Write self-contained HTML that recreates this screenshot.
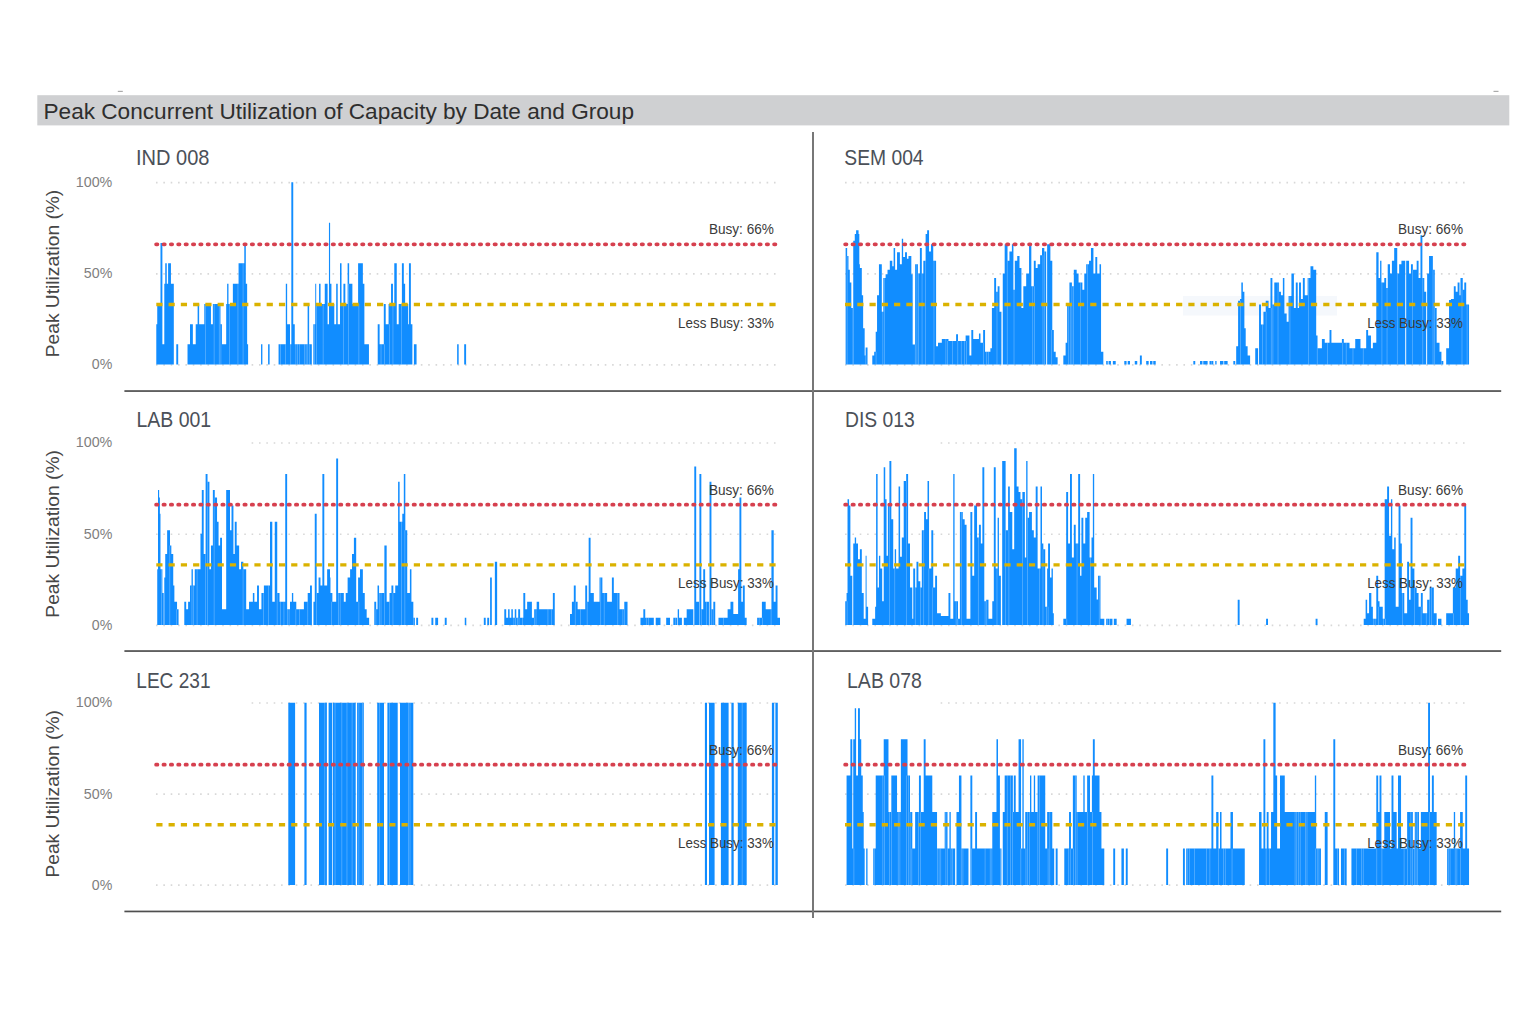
<!DOCTYPE html>
<html><head><meta charset="utf-8"><title>Peak Concurrent Utilization</title>
<style>
html,body{margin:0;padding:0;background:#fff;}
body{width:1536px;height:1024px;overflow:hidden;position:relative;font-family:"Liberation Sans", sans-serif;}
#wrap{position:absolute;left:0;top:0;width:1536px;height:1024px;}
svg{display:block;}
</style></head><body><div id="wrap">
<svg width="1536" height="1024" viewBox="0 0 1536 1024" font-family='"Liberation Sans", sans-serif'>
<g>
<rect x="0" y="0" width="1536" height="1024" fill="#FFFFFF"/>
<rect x="117.8" y="90.8" width="5" height="1.2" fill="#ABABAB"/>
<rect x="1493.5" y="90.8" width="5" height="1.2" fill="#ABABAB"/>
<rect x="37.3" y="95.2" width="1472" height="30.2" fill="#CFD0D2"/>
<text x="43.5" y="118.8" font-size="22.3" fill="#2E2E2E" textLength="590.5" lengthAdjust="spacingAndGlyphs">Peak Concurrent Utilization of Capacity by Date and Group</text>
<rect x="124.4" y="390.2" width="1376.8" height="1.7" fill="#4F4F4F"/>
<rect x="124.4" y="650.2" width="1376.8" height="1.7" fill="#4F4F4F"/>
<rect x="124.4" y="910.6" width="1376.8" height="1.7" fill="#4F4F4F"/>
<rect x="812.0" y="132" width="2" height="786" fill="#777777"/>
<rect x="1183" y="296" width="154" height="19.5" fill="#F5F8FC"/>
<line x1="155.97" y1="182.60" x2="775.56" y2="182.60" stroke="#D8D8D8" stroke-width="1.7" stroke-dasharray="1.6 5.757"/>
<line x1="155.97" y1="273.85" x2="775.56" y2="273.85" stroke="#D8D8D8" stroke-width="1.7" stroke-dasharray="1.6 5.757"/>
<line x1="155.97" y1="364.90" x2="775.56" y2="364.90" stroke="#D8D8D8" stroke-width="1.7" stroke-dasharray="1.6 5.757"/>
<path fill="#118DFF" d="M156.29 364.60V324.13H157.24V364.60Z M157.24 364.60V303.89H160.48V364.60Z M160.48 364.60V243.01H162.38V364.60Z M162.38 364.60V344.36H164.29V364.60Z M164.29 364.60V283.66H165.24V364.60Z M165.24 364.60V263.24H166.76V364.60Z M166.76 364.60V283.66H168.10V364.60Z M168.10 364.60V263.24H170.95V364.60Z M170.95 364.60V283.66H173.81V364.60Z M176.29 364.60V344.36H178.19V364.60Z M187.52 364.60V344.36H190.00V364.60Z M190.00 364.60V324.13H192.86V364.60Z M192.86 364.60V344.36H195.71V364.60Z M195.71 364.60V324.13H197.62V364.60Z M197.62 364.60V303.89H199.14V364.60Z M199.14 364.60V324.13H204.29V364.60Z M204.29 364.60V303.89H210.95V364.60Z M210.95 364.60V324.13H212.86V364.60Z M212.86 364.60V303.89H220.48V364.60Z M220.48 364.60V324.13H222.00V364.60Z M222.00 364.60V344.36H226.19V364.60Z M226.19 364.60V303.89H227.14V364.60Z M227.14 364.60V283.66H228.48V364.60Z M228.48 364.60V303.89H232.86V364.60Z M232.86 364.60V283.66H238.57V364.60Z M238.57 364.60V263.24H244.29V364.60Z M244.29 364.60V243.01H245.81V364.60Z M245.81 364.60V283.66H247.14V364.60Z M247.14 364.60V344.36H248.10V364.60Z M261.05 364.60V344.36H262.38V364.60Z M268.10 364.60V344.36H269.62V364.60Z M278.57 364.60V344.36H285.81V364.60Z M285.81 364.60V283.66H287.14V364.60Z M287.14 364.60V324.13H290.00V364.60Z M290.00 364.60V344.36H291.33V364.60Z M291.33 364.60V182.30H293.24V364.60Z M293.24 364.60V324.13H294.76V364.60Z M294.76 364.60V344.36H300.10V364.60Z M300.00 364.60V344.36H307.62V364.60Z M307.62 364.60V303.89H309.14V364.60Z M309.14 364.60V344.36H311.81V364.60Z M313.33 364.60V324.13H315.24V364.60Z M315.24 364.60V283.66H316.19V364.60Z M316.19 364.60V303.89H319.05V364.60Z M319.05 364.60V283.66H320.57V364.60Z M320.57 364.60V303.89H324.76V364.60Z M324.76 364.60V283.66H327.62V364.60Z M327.62 364.60V324.13H328.95V364.60Z M328.95 364.60V222.77H330.10V364.60Z M330.10 364.60V283.66H331.43V364.60Z M331.43 364.60V303.89H334.29V364.60Z M334.29 364.60V324.13H336.19V364.60Z M336.19 364.60V283.66H337.71V364.60Z M337.71 364.60V324.13H340.00V364.60Z M340.00 364.60V263.24H341.52V364.60Z M341.52 364.60V303.89H343.43V364.60Z M343.43 364.60V283.66H345.33V364.60Z M345.33 364.60V303.89H347.62V364.60Z M347.62 364.60V263.24H349.14V364.60Z M349.14 364.60V283.66H352.38V364.60Z M352.38 364.60V303.89H358.10V364.60Z M358.10 364.60V263.24H362.86V364.60Z M362.86 364.60V283.66H364.38V364.60Z M364.38 364.60V344.36H368.95V364.60Z M377.71 364.60V324.13H379.62V364.60Z M379.62 364.60V344.36H383.81V364.60Z M383.81 364.60V303.89H385.71V364.60Z M385.71 364.60V324.13H388.57V364.60Z M388.57 364.60V303.89H391.05V364.60Z M391.05 364.60V283.66H392.95V364.60Z M392.95 364.60V303.89H394.29V364.60Z M394.29 364.60V263.24H396.76V364.60Z M396.76 364.60V324.13H398.67V364.60Z M398.67 364.60V303.89H401.90V364.60Z M401.90 364.60V263.24H403.81V364.60Z M403.81 364.60V283.66H405.14V364.60Z M405.14 364.60V303.89H408.19V364.60Z M408.19 364.60V324.13H408.95V364.60Z M408.95 364.60V263.24H410.86V364.60Z M410.86 364.60V324.13H412.38V364.60Z M413.90 364.60V344.36H416.57V364.60Z M457.14 364.60V344.36H458.67V364.60Z M464.19 364.60V344.36H466.10V364.60Z"/>
<path fill="#FFFFFF" fill-opacity="0.4" d="M205.30 364.60V303.89H205.90V364.60Z M213.81 364.60V303.89H214.41V364.60Z M218.92 364.60V303.89H219.52V364.60Z M220.62 364.60V324.13H221.22V364.60Z M229.14 364.60V303.89H229.74V364.60Z M237.66 364.60V283.66H238.26V364.60Z M242.77 364.60V263.24H243.37V364.60Z M280.24 364.60V344.36H280.84V364.60Z M285.35 364.60V344.36H285.95V364.60Z M290.46 364.60V324.13H291.06V364.60Z M295.57 364.60V344.36H296.17V364.60Z M297.27 364.60V344.36H297.87V364.60Z M298.98 364.60V344.36H299.58V364.60Z M304.09 364.60V344.36H304.69V364.60Z M305.79 364.60V344.36H306.39V364.60Z M307.49 364.60V344.36H308.09V364.60Z M309.20 364.60V344.36H309.80V364.60Z M314.30 364.60V324.13H314.90V364.60Z M316.01 364.60V303.89H316.61V364.60Z M322.82 364.60V303.89H323.42V364.60Z M343.26 364.60V303.89H343.86V364.60Z M348.37 364.60V283.66H348.97V364.60Z M358.59 364.60V303.89H359.19V364.60Z M380.73 364.60V344.36H381.33V364.60Z M384.14 364.60V344.36H384.74V364.60Z M389.25 364.60V324.13H389.85V364.60Z M392.66 364.60V303.89H393.26V364.60Z M401.17 364.60V303.89H401.77V364.60Z"/>
<line x1="156.12" y1="244.28" x2="775.41" y2="244.28" stroke="#D6404F" stroke-width="3.8" stroke-linecap="round" stroke-dasharray="1.3 6.057"/>
<line x1="156.30" y1="304.44" x2="775.60" y2="304.44" stroke="#DAB200" stroke-width="3.4" stroke-dasharray="6.2 6.062"/>
<text x="773.9" y="234.2" font-size="14.2" fill="#3A3A3A" text-anchor="end" textLength="65.0" lengthAdjust="spacingAndGlyphs" >Busy: 66%</text>
<text x="773.9" y="327.5" font-size="14.2" fill="#3A3A3A" text-anchor="end" textLength="95.8" lengthAdjust="spacingAndGlyphs" >Less Busy: 33%</text>
<text x="136.0" y="164.9" font-size="22.8" fill="#4B5058" text-anchor="start" textLength="73.5" lengthAdjust="spacingAndGlyphs" >IND 008</text>
<text x="112.3" y="187.0" font-size="14.5" fill="#808080" text-anchor="end" textLength="36.5" lengthAdjust="spacingAndGlyphs" >100%</text>
<text x="112.3" y="278.2" font-size="14.5" fill="#808080" text-anchor="end" textLength="28.5" lengthAdjust="spacingAndGlyphs" >50%</text>
<text x="112.3" y="369.3" font-size="14.5" fill="#808080" text-anchor="end" textLength="20.5" lengthAdjust="spacingAndGlyphs" >0%</text>
<text x="0" y="0" font-size="18.5" fill="#474747" text-anchor="middle" textLength="167.5" lengthAdjust="spacingAndGlyphs" transform="translate(58.9 273.5) rotate(-90)">Peak Utilization (%)</text>
<line x1="845.01" y1="182.60" x2="1464.60" y2="182.60" stroke="#D8D8D8" stroke-width="1.7" stroke-dasharray="1.6 5.757"/>
<line x1="845.01" y1="273.85" x2="1464.60" y2="273.85" stroke="#D8D8D8" stroke-width="1.7" stroke-dasharray="1.6 5.757"/>
<line x1="845.01" y1="364.90" x2="1464.60" y2="364.90" stroke="#D8D8D8" stroke-width="1.7" stroke-dasharray="1.6 5.757"/>
<path fill="#118DFF" d="M845.62 364.60V247.93H847.14V364.60Z M847.14 364.60V255.95H848.48V364.60Z M848.48 364.60V269.80H849.81V364.60Z M849.81 364.60V282.57H851.33V364.60Z M851.33 364.60V308.09H852.86V364.60Z M853.24 364.60V240.64H854.76V364.60Z M854.76 364.60V234.07H856.10V364.60Z M856.10 364.60V230.24H858.57V364.60Z M858.57 364.60V234.07H859.33V364.60Z M859.33 364.60V264.34H859.90V364.60Z M859.90 364.60V267.98H861.81V364.60Z M861.81 364.60V295.33H863.14V364.60Z M863.14 364.60V328.14H864.67V364.60Z M864.67 364.60V355.49H865.62V364.60Z M865.62 364.60V347.46H867.52V364.60Z M872.29 364.60V355.49H874.19V364.60Z M874.19 364.60V351.84H875.71V364.60Z M875.71 364.60V331.79H877.05V364.60Z M877.05 364.60V295.33H878.95V364.60Z M878.95 364.60V264.34H881.81V364.60Z M881.81 364.60V311.73H883.33V364.60Z M883.33 364.60V278.01H885.62V364.60Z M885.62 364.60V274.18H887.52V364.60Z M887.52 364.60V269.80H889.81V364.60Z M889.81 364.60V260.69H892.29V364.60Z M892.29 364.60V266.16H893.62V364.60Z M893.62 364.60V247.93H895.14V364.60Z M895.14 364.60V269.80H897.05V364.60Z M897.05 364.60V252.30H899.90V364.60Z M899.90 364.60V264.34H901.81V364.60Z M901.81 364.60V238.81H903.14V364.60Z M903.14 364.60V257.04H905.05V364.60Z M905.05 364.60V252.30H906.95V364.60Z M906.95 364.60V258.87H908.48V364.60Z M908.48 364.60V255.95H911.33V364.60Z M911.33 364.60V274.18H912.67V364.60Z M912.67 364.60V344.55H915.14V364.60Z M915.14 364.60V264.34H918.00V364.60Z M918.00 364.60V273.45H919.90V364.60Z M919.90 364.60V247.93H921.81V364.60Z M921.81 364.60V273.45H923.33V364.60Z M923.33 364.60V260.69H925.62V364.60Z M925.62 364.60V234.07H927.14V364.60Z M927.14 364.60V230.24H929.05V364.60Z M929.05 364.60V251.57H930.95V364.60Z M930.95 364.60V244.28H933.24V364.60Z M933.24 364.60V260.69H936.10V364.60Z M936.10 364.60V346.37H938.00V364.60Z M938.00 364.60V342.72H941.81V364.60Z M941.81 364.60V339.08H948.48V364.60Z M948.48 364.60V340.90H956.10V364.60Z M956.10 364.60V334.16H958.00V364.60Z M958.00 364.60V340.90H965.62V364.60Z M965.62 364.60V335.43H969.43V364.60Z M969.43 364.60V355.49H971.33V364.60Z M971.33 364.60V329.96H973.24V364.60Z M973.24 364.60V339.08H978.95V364.60Z M978.95 364.60V333.61H980.48V364.60Z M980.48 364.60V342.72H983.14V364.60Z M983.14 364.60V329.96H985.05V364.60Z M985.05 364.60V351.84H990.38V364.60Z M990.38 364.60V348.19H991.90V364.60Z M991.90 364.60V308.09H994.19V364.60Z M994.19 364.60V278.01H996.10V364.60Z M996.10 364.60V291.68H997.62V364.60Z M997.62 364.60V286.21H999.52V364.60Z M999.52 364.60V311.73H1001.43V364.60Z M1002.76 364.60V273.45H1004.67V364.60Z M1004.67 364.60V244.28H1007.52V364.60Z M1007.52 364.60V260.69H1009.43V364.60Z M1009.43 364.60V251.57H1010.00V364.60Z M1010.00 364.60V251.57H1011.90V364.60Z M1011.90 364.60V244.28H1013.43V364.60Z M1013.43 364.60V289.86H1014.76V364.60Z M1014.76 364.60V260.69H1017.24V364.60Z M1017.24 364.60V255.95H1019.52V364.60Z M1019.52 364.60V267.98H1021.43V364.60Z M1021.43 364.60V308.09H1023.33V364.60Z M1023.33 364.60V286.21H1026.19V364.60Z M1026.19 364.60V273.45H1029.05V364.60Z M1029.05 364.60V246.11H1031.33V364.60Z M1031.33 364.60V286.21H1033.81V364.60Z M1033.81 364.60V260.69H1035.71V364.60Z M1035.71 364.60V267.98H1037.62V364.60Z M1037.62 364.60V264.34H1040.10V364.60Z M1040.10 364.60V255.22H1042.00V364.60Z M1042.00 364.60V247.93H1044.29V364.60Z M1044.29 364.60V251.57H1046.19V364.60Z M1047.14 364.60V244.28H1050.38V364.60Z M1050.38 364.60V260.69H1052.29V364.60Z M1052.29 364.60V329.96H1053.81V364.60Z M1053.81 364.60V351.84H1055.71V364.60Z M1055.71 364.60V357.31H1057.62V364.60Z M1063.33 364.60V355.49H1065.62V364.60Z M1065.62 364.60V342.72H1067.14V364.60Z M1067.14 364.60V304.44H1069.43V364.60Z M1069.43 364.60V282.57H1071.90V364.60Z M1071.90 364.60V286.21H1073.81V364.60Z M1073.81 364.60V269.80H1076.67V364.60Z M1076.67 364.60V273.45H1078.57V364.60Z M1078.57 364.60V282.57H1082.38V364.60Z M1082.38 364.60V289.86H1084.29V364.60Z M1084.29 364.60V273.45H1086.19V364.60Z M1086.19 364.60V264.34H1089.05V364.60Z M1089.05 364.60V260.69H1090.95V364.60Z M1090.95 364.60V247.93H1093.43V364.60Z M1093.43 364.60V273.45H1095.33V364.60Z M1095.33 364.60V257.04H1097.24V364.60Z M1097.24 364.60V273.45H1099.52V364.60Z M1099.52 364.60V264.34H1101.05V364.60Z M1101.05 364.60V351.84H1103.33V364.60Z M1106.19 364.60V360.95H1108.10V364.60Z M1108.67 364.60V360.95H1110.95V364.60Z M1112.86 364.60V360.95H1115.71V364.60Z M1124.29 364.60V360.95H1126.57V364.60Z M1127.71 364.60V360.95H1130.00V364.60Z M1134.76 364.60V360.95H1137.24V364.60Z M1139.90 364.60V355.49H1141.81V364.60Z M1146.19 364.60V360.95H1148.67V364.60Z M1150.00 364.60V360.95H1152.48V364.60Z M1153.24 364.60V360.95H1155.71V364.60Z M1193.33 364.60V360.95H1195.24V364.60Z M1200.00 364.60V360.95H1202.48V364.60Z M1203.24 364.60V360.95H1207.62V364.60Z M1209.52 364.60V360.95H1213.33V364.60Z M1215.24 364.60V360.95H1216.57V364.60Z M1220.00 364.60V360.95H1223.43V364.60Z M1224.19 364.60V360.95H1227.62V364.60Z M1233.33 364.60V360.95H1235.24V364.60Z M1236.19 364.60V346.37H1238.10V364.60Z M1238.10 364.60V300.80H1240.00V364.60Z M1240.00 364.60V298.97H1241.33V364.60Z M1241.33 364.60V282.57H1242.86V364.60Z M1242.86 364.60V291.68H1244.38V364.60Z M1244.38 364.60V328.14H1245.71V364.60Z M1245.71 364.60V346.37H1247.62V364.60Z M1247.62 364.60V355.49H1250.10V364.60Z M1255.24 364.60V348.19H1258.10V364.60Z M1259.05 364.60V304.44H1260.95V364.60Z M1260.95 364.60V324.49H1263.43V364.60Z M1263.43 364.60V311.73H1265.71V364.60Z M1265.71 364.60V300.80H1268.57V364.60Z M1268.57 364.60V308.09H1270.48V364.60Z M1270.48 364.60V278.01H1272.38V364.60Z M1272.38 364.60V304.44H1274.29V364.60Z M1274.29 364.60V282.57H1279.05V364.60Z M1279.05 364.60V291.68H1280.95V364.60Z M1280.95 364.60V295.33H1282.86V364.60Z M1282.86 364.60V278.01H1284.38V364.60Z M1284.38 364.60V313.56H1286.67V364.60Z M1286.67 364.60V321.76H1288.57V364.60Z M1288.57 364.60V296.06H1291.43V364.60Z M1291.43 364.60V273.45H1293.90V364.60Z M1293.90 364.60V308.09H1295.81V364.60Z M1295.81 364.60V282.57H1297.71V364.60Z M1297.71 364.60V308.09H1299.05V364.60Z M1299.05 364.60V282.57H1300.95V364.60Z M1300.95 364.60V298.97H1302.86V364.60Z M1302.86 364.60V278.01H1304.76V364.60Z M1304.76 364.60V295.33H1307.62V364.60Z M1307.62 364.60V278.01H1310.48V364.60Z M1310.48 364.60V266.16H1313.33V364.60Z M1313.33 364.60V269.80H1316.19V364.60Z M1316.19 364.60V335.43H1317.52V364.60Z M1317.52 364.60V348.19H1321.90V364.60Z M1321.90 364.60V339.08H1324.76V364.60Z M1324.76 364.60V342.72H1329.52V364.60Z M1329.52 364.60V329.96H1331.43V364.60Z M1331.43 364.60V342.72H1341.90V364.60Z M1341.90 364.60V339.08H1343.81V364.60Z M1343.81 364.60V342.72H1349.52V364.60Z M1349.52 364.60V348.19H1355.24V364.60Z M1355.24 364.60V339.08H1360.00V364.60Z M1359.90 364.60V339.08H1360.48V364.60Z M1360.48 364.60V348.19H1366.19V364.60Z M1366.19 364.60V329.96H1368.10V364.60Z M1368.10 364.60V335.43H1370.95V364.60Z M1370.95 364.60V348.19H1372.86V364.60Z M1372.86 364.60V342.72H1376.29V364.60Z M1376.29 364.60V252.30H1378.57V364.60Z M1378.57 364.60V278.01H1380.10V364.60Z M1380.10 364.60V260.69H1381.43V364.60Z M1381.43 364.60V282.57H1384.29V364.60Z M1384.29 364.60V278.01H1386.19V364.60Z M1386.19 364.60V288.03H1387.71V364.60Z M1387.71 364.60V264.34H1390.00V364.60Z M1390.00 364.60V273.45H1391.90V364.60Z M1391.90 364.60V260.69H1394.19V364.60Z M1394.19 364.60V247.93H1397.24V364.60Z M1397.24 364.60V273.45H1399.14V364.60Z M1399.14 364.60V264.34H1401.43V364.60Z M1401.43 364.60V260.69H1405.24V364.60Z M1406.19 364.60V260.69H1409.05V364.60Z M1409.05 364.60V273.45H1410.95V364.60Z M1410.95 364.60V264.34H1412.86V364.60Z M1412.86 364.60V269.80H1416.67V364.60Z M1416.67 364.60V260.69H1418.57V364.60Z M1418.57 364.60V278.01H1420.48V364.60Z M1420.48 364.60V235.17H1422.38V364.60Z M1422.38 364.60V278.01H1424.29V364.60Z M1424.29 364.60V291.68H1426.19V364.60Z M1427.14 364.60V273.45H1429.05V364.60Z M1429.05 364.60V255.95H1432.86V364.60Z M1432.86 364.60V269.80H1434.76V364.60Z M1434.76 364.60V308.09H1436.67V364.60Z M1436.67 364.60V342.72H1439.52V364.60Z M1439.52 364.60V351.84H1441.43V364.60Z M1441.43 364.60V360.95H1443.33V364.60Z M1446.19 364.60V348.19H1449.05V364.60Z M1449.05 364.60V299.88H1450.95V364.60Z M1450.95 364.60V298.97H1453.81V364.60Z M1453.81 364.60V286.21H1455.71V364.60Z M1455.71 364.60V291.68H1457.62V364.60Z M1457.62 364.60V282.57H1459.52V364.60Z M1459.52 364.60V295.33H1460.48V364.60Z M1460.48 364.60V278.01H1462.76V364.60Z M1462.76 364.60V289.86H1464.29V364.60Z M1464.29 364.60V282.57H1466.19V364.60Z M1466.19 364.60V304.44H1469.05V364.60Z"/>
<path fill="#FFFFFF" fill-opacity="0.4" d="M846.80 364.60V255.95H847.40V364.60Z M865.54 364.60V355.49H866.14V364.60Z M875.76 364.60V351.84H876.36V364.60Z M882.57 364.60V311.73H883.17V364.60Z M884.28 364.60V278.01H884.88V364.60Z M914.93 364.60V344.55H915.53V364.60Z M916.64 364.60V264.34H917.24V364.60Z M918.34 364.60V273.45H918.94V364.60Z M921.75 364.60V273.45H922.35V364.60Z M925.15 364.60V260.69H925.75V364.60Z M933.67 364.60V260.69H934.27V364.60Z M945.59 364.60V339.08H946.19V364.60Z M947.30 364.60V340.90H947.90V364.60Z M952.41 364.60V340.90H953.01V364.60Z M957.52 364.60V340.90H958.12V364.60Z M960.92 364.60V340.90H961.52V364.60Z M964.33 364.60V340.90H964.93V364.60Z M966.03 364.60V340.90H966.63V364.60Z M983.07 364.60V342.72H983.67V364.60Z M986.47 364.60V351.84H987.07V364.60Z M988.18 364.60V351.84H988.78V364.60Z M996.69 364.60V286.21H997.29V364.60Z M1006.91 364.60V260.69H1007.51V364.60Z M1013.72 364.60V260.69H1014.32V364.60Z M1032.46 364.60V286.21H1033.06V364.60Z M1034.16 364.60V286.21H1034.76V364.60Z M1042.68 364.60V255.22H1043.28V364.60Z M1044.38 364.60V251.57H1044.98V364.60Z M1051.20 364.60V329.96H1051.80V364.60Z M1068.23 364.60V304.44H1068.83V364.60Z M1069.93 364.60V304.44H1070.53V364.60Z M1071.64 364.60V286.21H1072.24V364.60Z M1073.34 364.60V286.21H1073.94V364.60Z M1080.15 364.60V282.57H1080.75V364.60Z M1086.97 364.60V264.34H1087.57V364.60Z M1107.40 364.60V360.95H1108.00V364.60Z M1211.30 364.60V360.95H1211.90V364.60Z M1240.26 364.60V300.80H1240.86V364.60Z M1262.40 364.60V324.49H1263.00V364.60Z M1265.81 364.60V311.73H1266.41V364.60Z M1270.92 364.60V308.09H1271.52V364.60Z M1272.62 364.60V304.44H1273.22V364.60Z M1277.73 364.60V282.57H1278.33V364.60Z M1289.66 364.60V296.06H1290.26V364.60Z M1308.39 364.60V278.01H1308.99V364.60Z M1316.91 364.60V348.19H1317.51V364.60Z M1327.13 364.60V342.72H1327.73V364.60Z M1342.46 364.60V342.72H1343.06V364.60Z M1345.86 364.60V342.72H1346.46V364.60Z M1352.68 364.60V348.19H1353.28V364.60Z M1362.90 364.60V348.19H1363.50V364.60Z M1381.63 364.60V282.57H1382.23V364.60Z M1386.74 364.60V278.01H1387.34V364.60Z M1396.96 364.60V273.45H1397.56V364.60Z M1412.29 364.60V269.80H1412.89V364.60Z M1422.51 364.60V278.01H1423.11V364.60Z M1432.73 364.60V269.80H1433.33V364.60Z M1434.43 364.60V308.09H1435.03V364.60Z M1441.25 364.60V360.95H1441.85V364.60Z M1461.69 364.60V289.86H1462.29V364.60Z M1466.80 364.60V304.44H1467.40V364.60Z"/>
<line x1="845.16" y1="244.28" x2="1464.45" y2="244.28" stroke="#D6404F" stroke-width="3.8" stroke-linecap="round" stroke-dasharray="1.3 6.057"/>
<line x1="845.00" y1="304.44" x2="1464.30" y2="304.44" stroke="#DAB200" stroke-width="3.4" stroke-dasharray="6.2 6.062"/>
<text x="1463.0" y="234.2" font-size="14.2" fill="#3A3A3A" text-anchor="end" textLength="65.0" lengthAdjust="spacingAndGlyphs" >Busy: 66%</text>
<text x="1463.0" y="327.5" font-size="14.2" fill="#3A3A3A" text-anchor="end" textLength="95.8" lengthAdjust="spacingAndGlyphs" >Less Busy: 33%</text>
<text x="844.3" y="164.9" font-size="22.8" fill="#4B5058" text-anchor="start" textLength="79.3" lengthAdjust="spacingAndGlyphs" >SEM 004</text>
<line x1="251.61" y1="443.00" x2="775.56" y2="443.00" stroke="#D8D8D8" stroke-width="1.7" stroke-dasharray="1.6 5.757"/>
<line x1="155.97" y1="534.25" x2="775.56" y2="534.25" stroke="#D8D8D8" stroke-width="1.7" stroke-dasharray="1.6 5.757"/>
<line x1="155.97" y1="625.30" x2="775.56" y2="625.30" stroke="#D8D8D8" stroke-width="1.7" stroke-dasharray="1.6 5.757"/>
<path fill="#118DFF" d="M157.24 625.00V569.22H158.00V625.00Z M158.00 625.00V490.10H159.14V625.00Z M159.14 625.00V497.39H159.90V625.00Z M159.90 625.00V513.80H160.48V625.00Z M160.48 625.00V569.22H162.38V625.00Z M162.38 625.00V593.10H163.71V625.00Z M164.29 625.00V577.60H165.24V625.00Z M165.24 625.00V553.90H167.14V625.00Z M167.14 625.00V530.20H170.00V625.00Z M170.00 625.00V545.52H171.33V625.00Z M171.33 625.00V553.90H173.24V625.00Z M173.24 625.00V585.44H174.38V625.00Z M174.38 625.00V601.67H177.05V625.00Z M177.05 625.00V609.32H178.57V625.00Z M184.29 625.00V601.67H186.19V625.00Z M186.19 625.00V609.32H188.10V625.00Z M188.10 625.00V601.67H190.00V625.00Z M190.00 625.00V585.44H191.52V625.00Z M191.52 625.00V569.22H192.86V625.00Z M192.86 625.00V585.44H194.76V625.00Z M194.76 625.00V569.22H200.48V625.00Z M200.48 625.00V533.85H201.81V625.00Z M201.81 625.00V490.10H203.71V625.00Z M203.71 625.00V553.90H205.62V625.00Z M205.62 625.00V474.06H207.52V625.00Z M207.52 625.00V481.71H209.43V625.00Z M209.43 625.00V569.22H210.95V625.00Z M210.95 625.00V545.52H212.86V625.00Z M212.86 625.00V490.10H214.76V625.00Z M214.76 625.00V497.39H217.05V625.00Z M217.05 625.00V521.64H218.57V625.00Z M218.57 625.00V545.52H220.10V625.00Z M220.10 625.00V537.86H222.00V625.00Z M222.00 625.00V609.32H226.19V625.00Z M226.19 625.00V490.10H230.00V625.00Z M230.00 625.00V530.20H231.52V625.00Z M231.52 625.00V505.41H233.43V625.00Z M233.43 625.00V553.90H234.76V625.00Z M234.76 625.00V521.64H236.67V625.00Z M236.67 625.00V545.52H239.14V625.00Z M239.14 625.00V569.22H241.05V625.00Z M241.05 625.00V561.74H243.33V625.00Z M243.33 625.00V569.22H246.19V625.00Z M246.19 625.00V609.32H249.05V625.00Z M249.05 625.00V601.67H252.86V625.00Z M252.86 625.00V593.10H254.38V625.00Z M254.38 625.00V601.67H257.05V625.00Z M257.05 625.00V585.44H258.95V625.00Z M258.95 625.00V609.32H261.43V625.00Z M261.43 625.00V593.10H263.90V625.00Z M263.90 625.00V585.44H270.00V625.00Z M270.00 625.00V521.64H272.29V625.00Z M272.29 625.00V601.67H274.76V625.00Z M274.76 625.00V521.64H277.24V625.00Z M277.24 625.00V593.10H279.52V625.00Z M279.52 625.00V601.67H285.24V625.00Z M285.24 625.00V474.06H287.14V625.00Z M287.14 625.00V609.32H290.00V625.00Z M290.00 625.00V601.67H291.90V625.00Z M291.90 625.00V593.10H293.24V625.00Z M293.24 625.00V601.67H296.29V625.00Z M296.29 625.00V609.32H303.90V625.00Z M303.90 625.00V601.67H307.71V625.00Z M307.71 625.00V593.10H310.00V625.00Z M310.00 625.00V585.44H311.90V625.00Z M313.43 625.00V601.67H314.76V625.00Z M314.76 625.00V513.80H316.67V625.00Z M316.67 625.00V593.10H318.57V625.00Z M318.57 625.00V577.60H320.48V625.00Z M320.48 625.00V585.44H322.38V625.00Z M322.38 625.00V474.06H324.29V625.00Z M324.29 625.00V585.44H327.14V625.00Z M327.14 625.00V569.22H330.00V625.00Z M329.90 625.00V577.60H330.48V625.00Z M330.48 625.00V593.10H332.38V625.00Z M332.38 625.00V601.67H336.19V625.00Z M336.19 625.00V458.38H338.10V625.00Z M338.10 625.00V593.10H343.81V625.00Z M343.81 625.00V601.67H345.71V625.00Z M345.71 625.00V593.10H347.62V625.00Z M347.62 625.00V577.60H350.10V625.00Z M350.10 625.00V569.22H352.00V625.00Z M352.00 625.00V553.90H353.90V625.00Z M353.90 625.00V537.86H356.19V625.00Z M356.19 625.00V601.67H358.10V625.00Z M358.10 625.00V577.60H360.00V625.00Z M360.00 625.00V569.22H362.86V625.00Z M362.86 625.00V593.10H364.76V625.00Z M364.76 625.00V609.32H366.67V625.00Z M366.67 625.00V617.71H369.14V625.00Z M374.29 625.00V601.67H376.19V625.00Z M376.19 625.00V609.32H377.52V625.00Z M377.52 625.00V585.44H379.05V625.00Z M379.05 625.00V593.10H384.38V625.00Z M384.38 625.00V545.52H386.67V625.00Z M386.67 625.00V601.67H389.52V625.00Z M389.52 625.00V593.10H391.43V625.00Z M391.43 625.00V585.44H393.33V625.00Z M393.33 625.00V593.10H395.24V625.00Z M395.24 625.00V585.44H398.10V625.00Z M398.10 625.00V481.71H399.62V625.00Z M399.62 625.00V521.64H402.29V625.00Z M402.29 625.00V513.80H403.81V625.00Z M403.81 625.00V474.06H405.33V625.00Z M405.33 625.00V530.20H407.24V625.00Z M407.24 625.00V593.10H409.90V625.00Z M409.90 625.00V569.22H411.43V625.00Z M411.43 625.00V601.67H413.33V625.00Z M413.33 625.00V617.71H414.86V625.00Z M416.19 625.00V617.71H418.10V625.00Z M431.43 625.00V617.71H433.33V625.00Z M435.24 625.00V617.71H438.10V625.00Z M444.76 625.00V617.71H446.67V625.00Z M464.76 625.00V617.71H466.29V625.00Z M483.81 625.00V617.71H485.71V625.00Z M487.24 625.00V617.71H489.14V625.00Z M490.10 625.00V577.60H491.81V625.00Z M494.86 625.00V561.74H497.14V625.00Z M504.29 625.00V609.32H506.19V625.00Z M506.19 625.00V617.71H508.10V625.00Z M508.10 625.00V609.32H509.62V625.00Z M509.62 625.00V617.71H511.33V625.00Z M511.33 625.00V609.32H512.86V625.00Z M512.86 625.00V617.71H514.76V625.00Z M514.76 625.00V609.32H516.29V625.00Z M516.29 625.00V617.71H518.19V625.00Z M518.19 625.00V609.32H520.10V625.00Z M520.10 625.00V617.71H523.33V625.00Z M523.33 625.00V593.10H525.24V625.00Z M525.24 625.00V609.32H527.14V625.00Z M527.14 625.00V601.67H531.90V625.00Z M531.90 625.00V617.71H534.19V625.00Z M534.19 625.00V609.32H536.67V625.00Z M536.67 625.00V601.67H539.14V625.00Z M539.14 625.00V609.32H552.86V625.00Z M552.86 625.00V593.10H554.76V625.00Z M570.00 625.00V614.06H571.90V625.00Z M571.90 625.00V601.67H573.81V625.00Z M573.81 625.00V585.44H575.71V625.00Z M575.71 625.00V601.67H577.62V625.00Z M577.62 625.00V609.32H585.24V625.00Z M585.24 625.00V585.44H587.14V625.00Z M587.14 625.00V601.67H588.67V625.00Z M588.67 625.00V537.86H590.57V625.00Z M590.57 625.00V593.10H593.81V625.00Z M593.81 625.00V601.67H599.52V625.00Z M599.52 625.00V577.60H602.38V625.00Z M602.38 625.00V593.10H607.14V625.00Z M607.14 625.00V601.67H611.90V625.00Z M611.90 625.00V577.60H613.81V625.00Z M613.81 625.00V593.10H619.52V625.00Z M619.52 625.00V609.32H624.29V625.00Z M624.29 625.00V601.67H627.52V625.00Z M640.48 625.00V617.71H643.33V625.00Z M643.33 625.00V609.32H645.24V625.00Z M645.24 625.00V617.71H653.81V625.00Z M655.71 625.00V617.71H660.48V625.00Z M666.19 625.00V617.71H670.00V625.00Z M673.33 625.00V617.71H677.14V625.00Z M677.71 625.00V609.32H679.05V625.00Z M679.05 625.00V617.71H681.90V625.00Z M683.81 625.00V617.71H686.67V625.00Z M686.67 625.00V609.32H693.33V625.00Z M694.29 625.00V466.40H696.19V625.00Z M696.19 625.00V601.67H699.05V625.00Z M699.43 625.00V474.06H701.33V625.00Z M701.33 625.00V609.32H703.24V625.00Z M703.24 625.00V569.22H705.14V625.00Z M705.14 625.00V601.67H708.95V625.00Z M709.52 625.00V481.71H711.43V625.00Z M711.43 625.00V609.32H713.33V625.00Z M713.33 625.00V601.67H715.24V625.00Z M718.48 625.00V617.71H727.62V625.00Z M727.62 625.00V609.32H730.48V625.00Z M730.48 625.00V601.67H733.33V625.00Z M733.33 625.00V614.06H738.10V625.00Z M738.10 625.00V569.22H739.43V625.00Z M739.43 625.00V497.39H741.33V625.00Z M741.33 625.00V601.67H742.86V625.00Z M742.86 625.00V585.44H744.76V625.00Z M744.76 625.00V617.71H746.67V625.00Z M757.14 625.00V617.71H761.90V625.00Z M761.90 625.00V601.67H765.71V625.00Z M765.71 625.00V609.32H771.43V625.00Z M771.43 625.00V530.20H773.71V625.00Z M773.71 625.00V601.67H775.62V625.00Z M775.62 625.00V585.44H777.52V625.00Z M777.52 625.00V617.71H780.00V625.00Z"/>
<path fill="#FFFFFF" fill-opacity="0.4" d="M161.01 625.00V569.22H161.61V625.00Z M169.53 625.00V545.52H170.13V625.00Z M176.34 625.00V609.32H176.94V625.00Z M191.67 625.00V585.44H192.27V625.00Z M193.37 625.00V585.44H193.97V625.00Z M196.78 625.00V569.22H197.38V625.00Z M205.30 625.00V553.90H205.90V625.00Z M207.00 625.00V481.71H207.60V625.00Z M213.81 625.00V497.39H214.41V625.00Z M242.77 625.00V569.22H243.37V625.00Z M263.21 625.00V593.10H263.81V625.00Z M268.32 625.00V585.44H268.92V625.00Z M276.83 625.00V593.10H277.43V625.00Z M280.24 625.00V601.67H280.84V625.00Z M283.65 625.00V601.67H284.25V625.00Z M287.05 625.00V609.32H287.65V625.00Z M288.76 625.00V609.32H289.36V625.00Z M295.57 625.00V609.32H296.17V625.00Z M298.98 625.00V609.32H299.58V625.00Z M307.49 625.00V601.67H308.09V625.00Z M316.01 625.00V593.10H316.61V625.00Z M331.34 625.00V601.67H331.94V625.00Z M338.15 625.00V593.10H338.75V625.00Z M339.85 625.00V593.10H340.45V625.00Z M358.59 625.00V601.67H359.19V625.00Z M375.62 625.00V609.32H376.22V625.00Z M379.03 625.00V593.10H379.63V625.00Z M380.73 625.00V593.10H381.33V625.00Z M384.14 625.00V593.10H384.74V625.00Z M389.25 625.00V601.67H389.85V625.00Z M392.66 625.00V593.10H393.26V625.00Z M401.17 625.00V521.64H401.77V625.00Z M404.58 625.00V530.20H405.18V625.00Z M413.10 625.00V617.71H413.70V625.00Z M513.59 625.00V617.71H514.19V625.00Z M515.29 625.00V617.71H515.89V625.00Z M517.00 625.00V617.71H517.60V625.00Z M518.70 625.00V617.71H519.30V625.00Z M522.10 625.00V617.71H522.70V625.00Z M534.03 625.00V617.71H534.63V625.00Z M535.73 625.00V609.32H536.33V625.00Z M547.65 625.00V609.32H548.25V625.00Z M551.06 625.00V609.32H551.66V625.00Z M574.91 625.00V601.67H575.51V625.00Z M580.02 625.00V609.32H580.62V625.00Z M586.83 625.00V601.67H587.43V625.00Z M600.46 625.00V577.60H601.06V625.00Z M603.86 625.00V593.10H604.46V625.00Z M617.49 625.00V593.10H618.09V625.00Z M622.60 625.00V609.32H623.20V625.00Z M624.30 625.00V609.32H624.90V625.00Z M646.44 625.00V617.71H647.04V625.00Z M648.15 625.00V617.71H648.75V625.00Z M675.40 625.00V617.71H676.00V625.00Z M700.95 625.00V609.32H701.55V625.00Z M706.06 625.00V601.67H706.66V625.00Z M711.17 625.00V609.32H711.77V625.00Z M712.87 625.00V609.32H713.47V625.00Z M723.09 625.00V617.71H723.69V625.00Z M758.86 625.00V617.71H759.46V625.00Z M762.27 625.00V617.71H762.87V625.00Z M770.78 625.00V609.32H771.38V625.00Z"/>
<line x1="156.12" y1="504.68" x2="775.41" y2="504.68" stroke="#D6404F" stroke-width="3.8" stroke-linecap="round" stroke-dasharray="1.3 6.057"/>
<line x1="156.30" y1="564.84" x2="775.60" y2="564.84" stroke="#DAB200" stroke-width="3.4" stroke-dasharray="6.2 6.062"/>
<text x="773.9" y="494.6" font-size="14.2" fill="#3A3A3A" text-anchor="end" textLength="65.0" lengthAdjust="spacingAndGlyphs" >Busy: 66%</text>
<text x="773.9" y="587.9" font-size="14.2" fill="#3A3A3A" text-anchor="end" textLength="95.8" lengthAdjust="spacingAndGlyphs" >Less Busy: 33%</text>
<text x="136.5" y="426.9" font-size="22.8" fill="#4B5058" text-anchor="start" textLength="74.7" lengthAdjust="spacingAndGlyphs" >LAB 001</text>
<text x="112.3" y="447.4" font-size="14.5" fill="#808080" text-anchor="end" textLength="36.5" lengthAdjust="spacingAndGlyphs" >100%</text>
<text x="112.3" y="538.6" font-size="14.5" fill="#808080" text-anchor="end" textLength="28.5" lengthAdjust="spacingAndGlyphs" >50%</text>
<text x="112.3" y="629.7" font-size="14.5" fill="#808080" text-anchor="end" textLength="20.5" lengthAdjust="spacingAndGlyphs" >0%</text>
<text x="0" y="0" font-size="18.5" fill="#474747" text-anchor="middle" textLength="167.5" lengthAdjust="spacingAndGlyphs" transform="translate(58.9 533.9) rotate(-90)">Peak Utilization (%)</text>
<line x1="940.65" y1="443.00" x2="1464.60" y2="443.00" stroke="#D8D8D8" stroke-width="1.7" stroke-dasharray="1.6 5.757"/>
<line x1="845.01" y1="534.25" x2="1464.60" y2="534.25" stroke="#D8D8D8" stroke-width="1.7" stroke-dasharray="1.6 5.757"/>
<line x1="845.01" y1="625.30" x2="1464.60" y2="625.30" stroke="#D8D8D8" stroke-width="1.7" stroke-dasharray="1.6 5.757"/>
<path fill="#118DFF" d="M845.24 625.00V601.30H846.57V625.00Z M846.57 625.00V593.10H847.52V625.00Z M847.52 625.00V499.21H849.05V625.00Z M849.05 625.00V505.41H850.38V625.00Z M850.38 625.00V575.78H852.29V625.00Z M853.24 625.00V543.51H854.76V625.00Z M854.76 625.00V537.50H856.10V625.00Z M856.10 625.00V543.51H858.00V625.00Z M858.00 625.00V559.37H859.90V625.00Z M859.90 625.00V549.35H861.81V625.00Z M861.81 625.00V593.10H863.71V625.00Z M863.71 625.00V618.80H865.62V625.00Z M865.62 625.00V555.73H866.57V625.00Z M866.57 625.00V606.77H868.10V625.00Z M872.29 625.00V618.80H875.14V625.00Z M875.14 625.00V606.77H876.10V625.00Z M876.10 625.00V474.06H877.62V625.00Z M877.62 625.00V587.45H878.95V625.00Z M878.95 625.00V555.73H880.29V625.00Z M880.29 625.00V568.49H882.19V625.00Z M882.19 625.00V601.30H883.71V625.00Z M883.71 625.00V467.31H885.24V625.00Z M885.24 625.00V499.21H886.57V625.00Z M886.57 625.00V555.73H887.90V625.00Z M887.90 625.00V505.41H889.43V625.00Z M889.43 625.00V460.93H891.33V625.00Z M891.33 625.00V519.27H893.24V625.00Z M893.24 625.00V568.49H894.76V625.00Z M894.76 625.00V549.35H896.10V625.00Z M896.10 625.00V568.49H898.57V625.00Z M898.57 625.00V486.45H900.10V625.00Z M900.10 625.00V556.82H901.81V625.00Z M901.81 625.00V537.50H903.71V625.00Z M903.71 625.00V480.98H906.19V625.00Z M906.19 625.00V474.06H908.10V625.00Z M908.10 625.00V543.51H910.00V625.00Z M910.00 625.00V587.45H912.29V625.00Z M912.29 625.00V618.80H913.24V625.00Z M913.24 625.00V568.49H915.14V625.00Z M915.14 625.00V587.45H916.48V625.00Z M916.48 625.00V561.74H918.38V625.00Z M918.38 625.00V581.25H920.29V625.00Z M920.29 625.00V587.45H921.81V625.00Z M921.81 625.00V530.20H924.10V625.00Z M924.10 625.00V511.97H926.00V625.00Z M926.00 625.00V519.27H927.52V625.00Z M927.52 625.00V480.98H929.05V625.00Z M929.05 625.00V568.49H931.33V625.00Z M931.33 625.00V530.20H933.24V625.00Z M933.24 625.00V587.45H935.14V625.00Z M935.14 625.00V575.78H937.05V625.00Z M937.05 625.00V613.15H940.86V625.00Z M940.86 625.00V615.88H948.48V625.00Z M948.48 625.00V593.10H950.38V625.00Z M950.38 625.00V618.80H953.24V625.00Z M953.24 625.00V474.06H954.57V625.00Z M954.57 625.00V601.30H958.00V625.00Z M958.00 625.00V618.80H959.90V625.00Z M959.90 625.00V511.97H962.76V625.00Z M962.76 625.00V519.27H964.67V625.00Z M964.67 625.00V524.74H966.57V625.00Z M966.57 625.00V618.80H970.38V625.00Z M970.38 625.00V511.97H972.29V625.00Z M972.29 625.00V575.78H974.19V625.00Z M974.19 625.00V505.41H977.05V625.00Z M977.05 625.00V537.50H978.95V625.00Z M978.95 625.00V524.74H980.86V625.00Z M980.86 625.00V543.51H982.38V625.00Z M982.38 625.00V467.31H984.29V625.00Z M984.29 625.00V601.30H986.19V625.00Z M986.19 625.00V599.84H988.48V625.00Z M988.48 625.00V618.80H992.29V625.00Z M992.29 625.00V601.30H993.81V625.00Z M993.81 625.00V467.31H995.71V625.00Z M995.71 625.00V568.49H997.62V625.00Z M997.62 625.00V517.81H998.95V625.00Z M998.95 625.00V575.78H1000.86V625.00Z M1002.19 625.00V460.93H1005.62V625.00Z M1005.62 625.00V530.20H1008.10V625.00Z M1008.10 625.00V486.45H1009.81V625.00Z M1009.81 625.00V511.97H1012.29V625.00Z M1012.29 625.00V549.35H1014.19V625.00Z M1014.19 625.00V448.17H1016.67V625.00Z M1016.67 625.00V486.45H1018.00V625.00Z M1018.00 625.00V486.45H1018.57V625.00Z M1018.57 625.00V491.92H1020.48V625.00Z M1020.48 625.00V499.21H1022.38V625.00Z M1022.38 625.00V491.92H1024.86V625.00Z M1024.86 625.00V557.55H1026.19V625.00Z M1026.19 625.00V460.93H1027.52V625.00Z M1027.52 625.00V517.81H1029.05V625.00Z M1029.05 625.00V511.97H1031.90V625.00Z M1031.90 625.00V530.20H1033.81V625.00Z M1033.81 625.00V537.50H1035.71V625.00Z M1035.71 625.00V486.45H1037.62V625.00Z M1037.62 625.00V568.49H1040.48V625.00Z M1040.48 625.00V486.45H1042.00V625.00Z M1042.00 625.00V543.51H1043.33V625.00Z M1043.33 625.00V549.35H1045.24V625.00Z M1045.24 625.00V606.77H1047.14V625.00Z M1047.14 625.00V568.49H1048.10V625.00Z M1048.10 625.00V543.51H1050.00V625.00Z M1050.00 625.00V577.60H1051.52V625.00Z M1051.52 625.00V568.49H1052.86V625.00Z M1052.86 625.00V613.15H1053.81V625.00Z M1063.33 625.00V618.80H1066.19V625.00Z M1066.19 625.00V491.92H1068.10V625.00Z M1068.10 625.00V543.51H1070.00V625.00Z M1070.00 625.00V474.06H1071.90V625.00Z M1071.90 625.00V557.55H1073.81V625.00Z M1073.81 625.00V524.74H1075.71V625.00Z M1075.71 625.00V543.51H1078.19V625.00Z M1078.19 625.00V474.06H1080.10V625.00Z M1080.10 625.00V575.78H1081.43V625.00Z M1081.43 625.00V517.81H1083.33V625.00Z M1083.33 625.00V543.51H1085.24V625.00Z M1085.24 625.00V517.81H1087.14V625.00Z M1087.14 625.00V511.97H1089.62V625.00Z M1089.62 625.00V557.55H1091.52V625.00Z M1091.52 625.00V537.50H1092.86V625.00Z M1092.86 625.00V474.06H1094.19V625.00Z M1094.19 625.00V587.45H1096.67V625.00Z M1096.67 625.00V599.48H1098.00V625.00Z M1098.00 625.00V575.78H1100.48V625.00Z M1100.48 625.00V618.80H1104.29V625.00Z M1106.19 625.00V618.80H1109.05V625.00Z M1109.43 625.00V618.80H1112.48V625.00Z M1113.81 625.00V618.80H1116.67V625.00Z M1126.57 625.00V618.80H1130.95V625.00Z M1237.71 625.00V599.84H1239.62V625.00Z M1266.10 625.00V618.80H1268.00V625.00Z M1315.62 625.00V618.80H1317.52V625.00Z M1363.71 625.00V618.80H1365.62V625.00Z M1365.62 625.00V599.84H1367.14V625.00Z M1367.14 625.00V613.15H1369.05V625.00Z M1369.05 625.00V593.10H1371.33V625.00Z M1371.33 625.00V606.77H1372.86V625.00Z M1372.86 625.00V618.80H1376.29V625.00Z M1376.29 625.00V575.78H1378.19V625.00Z M1378.19 625.00V601.30H1379.52V625.00Z M1379.52 625.00V606.77H1382.76V625.00Z M1382.76 625.00V618.80H1384.67V625.00Z M1384.67 625.00V499.21H1387.14V625.00Z M1387.14 625.00V486.45H1389.05V625.00Z M1389.05 625.00V535.67H1390.95V625.00Z M1390.95 625.00V499.21H1392.29V625.00Z M1392.29 625.00V549.35H1394.19V625.00Z M1394.19 625.00V537.50H1395.71V625.00Z M1395.71 625.00V606.77H1398.57V625.00Z M1398.57 625.00V505.41H1400.48V625.00Z M1400.48 625.00V543.51H1401.81V625.00Z M1401.81 625.00V593.10H1404.29V625.00Z M1404.29 625.00V613.15H1407.14V625.00Z M1407.14 625.00V561.74H1409.05V625.00Z M1409.05 625.00V599.84H1410.57V625.00Z M1410.57 625.00V517.81H1412.48V625.00Z M1412.48 625.00V568.49H1414.38V625.00Z M1414.38 625.00V587.45H1416.67V625.00Z M1416.67 625.00V593.10H1418.57V625.00Z M1418.57 625.00V606.77H1420.86V625.00Z M1420.86 625.00V593.10H1422.76V625.00Z M1422.76 625.00V613.15H1427.14V625.00Z M1427.14 625.00V599.84H1429.62V625.00Z M1429.62 625.00V587.45H1433.81V625.00Z M1433.81 625.00V613.15H1436.67V625.00Z M1438.00 625.00V618.80H1441.43V625.00Z M1446.19 625.00V613.15H1452.86V625.00Z M1452.86 625.00V587.45H1455.71V625.00Z M1455.71 625.00V568.49H1458.19V625.00Z M1458.19 625.00V555.73H1460.10V625.00Z M1460.10 625.00V575.78H1462.38V625.00Z M1462.38 625.00V568.49H1464.29V625.00Z M1464.29 625.00V505.41H1466.19V625.00Z M1466.19 625.00V599.84H1467.71V625.00Z M1467.71 625.00V613.15H1469.05V625.00Z"/>
<path fill="#FFFFFF" fill-opacity="0.4" d="M846.80 625.00V601.30H847.40V625.00Z M889.39 625.00V505.41H889.99V625.00Z M894.50 625.00V568.49H895.10V625.00Z M906.42 625.00V480.98H907.02V625.00Z M914.93 625.00V587.45H915.53V625.00Z M920.04 625.00V587.45H920.64V625.00Z M923.45 625.00V530.20H924.05V625.00Z M928.56 625.00V568.49H929.16V625.00Z M931.97 625.00V587.45H932.57V625.00Z M955.81 625.00V601.30H956.41V625.00Z M957.52 625.00V618.80H958.12V625.00Z M960.92 625.00V511.97H961.52V625.00Z M977.96 625.00V537.50H978.56V625.00Z M984.77 625.00V601.30H985.37V625.00Z M986.47 625.00V601.30H987.07V625.00Z M996.69 625.00V568.49H997.29V625.00Z M1005.21 625.00V530.20H1005.81V625.00Z M1008.61 625.00V530.20H1009.21V625.00Z M1022.24 625.00V499.21H1022.84V625.00Z M1027.35 625.00V517.81H1027.95V625.00Z M1039.27 625.00V568.49H1039.87V625.00Z M1042.68 625.00V549.35H1043.28V625.00Z M1046.09 625.00V606.77H1046.69V625.00Z M1047.79 625.00V606.77H1048.39V625.00Z M1066.53 625.00V618.80H1067.13V625.00Z M1076.75 625.00V543.51H1077.35V625.00Z M1090.37 625.00V557.55H1090.97V625.00Z M1098.89 625.00V575.78H1099.49V625.00Z M1107.40 625.00V618.80H1108.00V625.00Z M1373.12 625.00V618.80H1373.72V625.00Z M1374.82 625.00V618.80H1375.42V625.00Z M1378.23 625.00V606.77H1378.83V625.00Z M1383.34 625.00V618.80H1383.94V625.00Z M1385.04 625.00V618.80H1385.64V625.00Z M1402.07 625.00V593.10H1402.67V625.00Z M1414.00 625.00V587.45H1414.60V625.00Z M1420.81 625.00V606.77H1421.41V625.00Z M1425.92 625.00V613.15H1426.52V625.00Z M1429.32 625.00V599.84H1429.92V625.00Z M1431.03 625.00V587.45H1431.63V625.00Z M1453.17 625.00V613.15H1453.77V625.00Z M1459.98 625.00V575.78H1460.58V625.00Z"/>
<line x1="845.16" y1="504.68" x2="1464.45" y2="504.68" stroke="#D6404F" stroke-width="3.8" stroke-linecap="round" stroke-dasharray="1.3 6.057"/>
<line x1="845.00" y1="564.84" x2="1464.30" y2="564.84" stroke="#DAB200" stroke-width="3.4" stroke-dasharray="6.2 6.062"/>
<text x="1463.0" y="494.6" font-size="14.2" fill="#3A3A3A" text-anchor="end" textLength="65.0" lengthAdjust="spacingAndGlyphs" >Busy: 66%</text>
<text x="1463.0" y="587.9" font-size="14.2" fill="#3A3A3A" text-anchor="end" textLength="95.8" lengthAdjust="spacingAndGlyphs" >Less Busy: 33%</text>
<text x="845.0" y="426.9" font-size="22.8" fill="#4B5058" text-anchor="start" textLength="69.8" lengthAdjust="spacingAndGlyphs" >DIS 013</text>
<line x1="251.61" y1="703.00" x2="775.56" y2="703.00" stroke="#D8D8D8" stroke-width="1.7" stroke-dasharray="1.6 5.757"/>
<line x1="155.97" y1="794.20" x2="775.56" y2="794.20" stroke="#D8D8D8" stroke-width="1.7" stroke-dasharray="1.6 5.757"/>
<line x1="155.97" y1="885.20" x2="775.56" y2="885.20" stroke="#D8D8D8" stroke-width="1.7" stroke-dasharray="1.6 5.757"/>
<path fill="#118DFF" d="M288.30 884.90V702.70H295.10V884.90Z M304.40 884.90V702.70H306.60V884.90Z M319.00 884.90V702.70H326.90V884.90Z M328.60 884.90V702.70H332.00V884.90Z M332.70 884.90V702.70H355.70V884.90Z M357.10 884.90V702.70H363.80V884.90Z M377.20 884.90V702.70H384.00V884.90Z M387.40 884.90V702.70H397.70V884.90Z M400.00 884.90V702.70H413.30V884.90Z M704.90 884.90V702.70H707.00V884.90Z M709.00 884.90V702.70H714.60V884.90Z M720.90 884.90V702.70H728.60V884.90Z M731.40 884.90V702.70H733.70V884.90Z M737.80 884.90V702.70H746.70V884.90Z M771.90 884.90V702.70H774.20V884.90Z M775.40 884.90V702.70H777.80V884.90Z"/>
<path fill="#FFFFFF" fill-opacity="0.4" d="M324.52 884.90V702.70H325.12V884.90Z M334.74 884.90V702.70H335.34V884.90Z M341.56 884.90V702.70H342.16V884.90Z M346.67 884.90V702.70H347.27V884.90Z M351.78 884.90V702.70H352.38V884.90Z M358.59 884.90V702.70H359.19V884.90Z M362.00 884.90V702.70H362.60V884.90Z M379.03 884.90V702.70H379.63V884.90Z M389.25 884.90V702.70H389.85V884.90Z M407.99 884.90V702.70H408.59V884.90Z M409.69 884.90V702.70H410.29V884.90Z M741.83 884.90V702.70H742.43V884.90Z"/>
<line x1="156.12" y1="764.65" x2="775.41" y2="764.65" stroke="#D6404F" stroke-width="3.8" stroke-linecap="round" stroke-dasharray="1.3 6.057"/>
<line x1="156.30" y1="824.77" x2="775.60" y2="824.77" stroke="#DAB200" stroke-width="3.4" stroke-dasharray="6.2 6.062"/>
<text x="773.9" y="754.5" font-size="14.2" fill="#3A3A3A" text-anchor="end" textLength="65.0" lengthAdjust="spacingAndGlyphs" >Busy: 66%</text>
<text x="773.9" y="847.9" font-size="14.2" fill="#3A3A3A" text-anchor="end" textLength="95.8" lengthAdjust="spacingAndGlyphs" >Less Busy: 33%</text>
<text x="136.3" y="688.3" font-size="22.8" fill="#4B5058" text-anchor="start" textLength="74.2" lengthAdjust="spacingAndGlyphs" >LEC 231</text>
<text x="112.3" y="707.4" font-size="14.5" fill="#808080" text-anchor="end" textLength="36.5" lengthAdjust="spacingAndGlyphs" >100%</text>
<text x="112.3" y="798.5" font-size="14.5" fill="#808080" text-anchor="end" textLength="28.5" lengthAdjust="spacingAndGlyphs" >50%</text>
<text x="112.3" y="889.6" font-size="14.5" fill="#808080" text-anchor="end" textLength="20.5" lengthAdjust="spacingAndGlyphs" >0%</text>
<text x="0" y="0" font-size="18.5" fill="#474747" text-anchor="middle" textLength="167.5" lengthAdjust="spacingAndGlyphs" transform="translate(58.9 793.8) rotate(-90)">Peak Utilization (%)</text>
<line x1="940.65" y1="703.00" x2="1464.60" y2="703.00" stroke="#D8D8D8" stroke-width="1.7" stroke-dasharray="1.6 5.757"/>
<line x1="845.01" y1="794.20" x2="1464.60" y2="794.20" stroke="#D8D8D8" stroke-width="1.7" stroke-dasharray="1.6 5.757"/>
<line x1="845.01" y1="885.20" x2="1464.60" y2="885.20" stroke="#D8D8D8" stroke-width="1.7" stroke-dasharray="1.6 5.757"/>
<path fill="#118DFF" d="M846.57 884.90V775.58H850.38V884.90Z M850.38 884.90V739.14H852.29V884.90Z M852.29 884.90V848.46H853.24V884.90Z M853.24 884.90V739.14H854.76V884.90Z M854.76 884.90V708.17H856.10V884.90Z M856.10 884.90V775.58H858.00V884.90Z M858.00 884.90V708.17H859.90V884.90Z M859.90 884.90V739.14H861.24V884.90Z M861.24 884.90V775.58H862.76V884.90Z M862.76 884.90V812.02H863.71V884.90Z M863.71 884.90V848.46H864.67V884.90Z M866.19 884.90V848.46H867.52V884.90Z M873.24 884.90V848.46H875.71V884.90Z M875.71 884.90V775.58H883.71V884.90Z M883.71 884.90V739.14H888.48V884.90Z M888.48 884.90V812.02H891.33V884.90Z M891.33 884.90V775.58H897.05V884.90Z M897.05 884.90V812.02H900.86V884.90Z M900.86 884.90V739.14H907.52V884.90Z M907.52 884.90V775.58H910.00V884.90Z M910.00 884.90V812.02H912.29V884.90Z M912.29 884.90V848.46H915.14V884.90Z M915.14 884.90V812.02H918.95V884.90Z M918.95 884.90V775.58H920.86V884.90Z M920.86 884.90V812.02H923.71V884.90Z M923.71 884.90V739.14H925.62V884.90Z M925.62 884.90V775.58H932.29V884.90Z M932.29 884.90V812.02H937.05V884.90Z M937.05 884.90V848.46H944.67V884.90Z M944.67 884.90V812.02H947.52V884.90Z M947.52 884.90V848.46H949.43V884.90Z M949.43 884.90V812.02H950.76V884.90Z M950.76 884.90V848.46H955.14V884.90Z M956.48 884.90V812.02H958.95V884.90Z M958.95 884.90V775.58H961.43V884.90Z M961.43 884.90V848.46H968.48V884.90Z M970.38 884.90V775.58H972.29V884.90Z M972.29 884.90V848.46H975.14V884.90Z M975.14 884.90V812.02H977.05V884.90Z M977.05 884.90V848.46H992.29V884.90Z M992.29 884.90V812.02H996.48V884.90Z M996.48 884.90V739.14H998.00V884.90Z M998.00 884.90V775.58H999.90V884.90Z M999.90 884.90V848.46H1001.43V884.90Z M1002.76 884.90V812.02H1004.67V884.90Z M1004.67 884.90V775.58H1012.86V884.90Z M1012.86 884.90V812.02H1013.81V884.90Z M1013.81 884.90V775.58H1015.71V884.90Z M1015.71 884.90V812.02H1018.00V884.90Z M1018.00 884.90V812.02H1018.57V884.90Z M1018.57 884.90V739.14H1021.05V884.90Z M1021.05 884.90V848.46H1022.38V884.90Z M1022.38 884.90V739.14H1023.71V884.90Z M1023.71 884.90V848.46H1025.24V884.90Z M1025.24 884.90V812.02H1030.00V884.90Z M1030.00 884.90V775.58H1031.33V884.90Z M1031.33 884.90V812.02H1033.81V884.90Z M1033.81 884.90V775.58H1035.14V884.90Z M1035.14 884.90V812.02H1037.62V884.90Z M1037.62 884.90V775.58H1045.24V884.90Z M1045.24 884.90V848.46H1047.14V884.90Z M1047.14 884.90V812.02H1052.29V884.90Z M1052.29 884.90V848.46H1054.19V884.90Z M1055.71 884.90V848.46H1057.62V884.90Z M1064.29 884.90V848.46H1069.05V884.90Z M1069.05 884.90V812.02H1070.95V884.90Z M1070.95 884.90V848.46H1072.86V884.90Z M1072.86 884.90V775.58H1076.67V884.90Z M1076.67 884.90V812.02H1083.33V884.90Z M1083.33 884.90V775.58H1084.67V884.90Z M1084.67 884.90V812.02H1087.14V884.90Z M1087.14 884.90V775.58H1090.00V884.90Z M1090.00 884.90V812.02H1091.90V884.90Z M1091.90 884.90V775.58H1092.86V884.90Z M1092.86 884.90V739.14H1094.76V884.90Z M1094.76 884.90V775.58H1099.52V884.90Z M1099.52 884.90V812.02H1101.43V884.90Z M1101.43 884.90V848.46H1104.29V884.90Z M1113.24 884.90V848.46H1115.14V884.90Z M1121.43 884.90V848.46H1123.90V884.90Z M1125.81 884.90V848.46H1127.71V884.90Z M1166.19 884.90V848.46H1168.10V884.90Z M1182.95 884.90V848.46H1184.86V884.90Z M1186.19 884.90V848.46H1190.00V884.90Z M1189.90 884.90V848.46H1211.43V884.90Z M1211.43 884.90V775.58H1213.33V884.90Z M1213.33 884.90V848.46H1216.19V884.90Z M1216.19 884.90V812.02H1218.48V884.90Z M1218.48 884.90V848.46H1220.00V884.90Z M1220.00 884.90V812.02H1221.52V884.90Z M1221.52 884.90V848.46H1230.48V884.90Z M1230.48 884.90V812.02H1232.95V884.90Z M1232.95 884.90V848.46H1244.76V884.90Z M1259.05 884.90V812.02H1261.52V884.90Z M1261.52 884.90V848.46H1263.43V884.90Z M1263.43 884.90V739.14H1265.33V884.90Z M1265.33 884.90V848.46H1266.67V884.90Z M1266.67 884.90V812.02H1268.57V884.90Z M1268.57 884.90V848.46H1271.05V884.90Z M1271.05 884.90V812.02H1273.33V884.90Z M1273.33 884.90V702.70H1275.62V884.90Z M1275.62 884.90V775.58H1277.14V884.90Z M1277.14 884.90V848.46H1280.00V884.90Z M1280.00 884.90V775.58H1284.76V884.90Z M1284.76 884.90V812.02H1314.86V884.90Z M1314.86 884.90V775.58H1316.19V884.90Z M1316.19 884.90V848.46H1320.95V884.90Z M1324.76 884.90V812.02H1327.62V884.90Z M1333.33 884.90V739.14H1335.24V884.90Z M1335.24 884.90V848.46H1339.05V884.90Z M1340.95 884.90V848.46H1346.67V884.90Z M1351.43 884.90V848.46H1360.00V884.90Z M1359.90 884.90V848.46H1376.29V884.90Z M1376.29 884.90V775.58H1378.19V884.90Z M1378.19 884.90V812.02H1379.52V884.90Z M1379.52 884.90V775.58H1381.43V884.90Z M1381.43 884.90V848.46H1384.29V884.90Z M1384.29 884.90V812.02H1390.00V884.90Z M1390.00 884.90V848.46H1391.52V884.90Z M1391.52 884.90V775.58H1393.43V884.90Z M1393.43 884.90V812.02H1396.67V884.90Z M1396.67 884.90V848.46H1398.00V884.90Z M1398.00 884.90V775.58H1401.05V884.90Z M1401.05 884.90V848.46H1407.14V884.90Z M1407.14 884.90V812.02H1412.86V884.90Z M1412.86 884.90V848.46H1414.76V884.90Z M1414.76 884.90V812.02H1418.95V884.90Z M1418.95 884.90V848.46H1420.86V884.90Z M1420.86 884.90V812.02H1428.10V884.90Z M1428.10 884.90V702.70H1430.00V884.90Z M1430.00 884.90V812.02H1431.90V884.90Z M1431.90 884.90V775.58H1433.81V884.90Z M1433.81 884.90V812.02H1436.67V884.90Z M1447.14 884.90V848.46H1453.81V884.90Z M1453.81 884.90V812.02H1455.14V884.90Z M1455.14 884.90V848.46H1460.10V884.90Z M1460.10 884.90V812.02H1462.76V884.90Z M1462.76 884.90V848.46H1465.24V884.90Z M1465.24 884.90V775.58H1467.14V884.90Z M1467.14 884.90V848.46H1469.05V884.90Z"/>
<path fill="#FFFFFF" fill-opacity="0.4" d="M853.62 884.90V848.46H854.22V884.90Z M874.06 884.90V848.46H874.66V884.90Z M882.57 884.90V775.58H883.17V884.90Z M884.28 884.90V775.58H884.88V884.90Z M889.39 884.90V812.02H889.99V884.90Z M891.09 884.90V812.02H891.69V884.90Z M897.90 884.90V812.02H898.50V884.90Z M899.60 884.90V812.02H900.20V884.90Z M906.42 884.90V775.58H907.02V884.90Z M908.12 884.90V775.58H908.72V884.90Z M909.82 884.90V812.02H910.42V884.90Z M911.53 884.90V848.46H912.13V884.90Z M918.34 884.90V812.02H918.94V884.90Z M920.04 884.90V812.02H920.64V884.90Z M937.08 884.90V848.46H937.68V884.90Z M938.78 884.90V848.46H939.38V884.90Z M940.48 884.90V848.46H941.08V884.90Z M945.59 884.90V812.02H946.19V884.90Z M947.30 884.90V848.46H947.90V884.90Z M950.70 884.90V848.46H951.30V884.90Z M952.41 884.90V848.46H953.01V884.90Z M960.92 884.90V848.46H961.52V884.90Z M962.63 884.90V848.46H963.23V884.90Z M971.14 884.90V848.46H971.74V884.90Z M984.77 884.90V848.46H985.37V884.90Z M989.88 884.90V848.46H990.48V884.90Z M991.58 884.90V848.46H992.18V884.90Z M1000.10 884.90V848.46H1000.70V884.90Z M1006.91 884.90V775.58H1007.51V884.90Z M1010.32 884.90V775.58H1010.92V884.90Z M1012.02 884.90V812.02H1012.62V884.90Z M1020.54 884.90V848.46H1021.14V884.90Z M1025.65 884.90V848.46H1026.25V884.90Z M1027.35 884.90V812.02H1027.95V884.90Z M1029.05 884.90V812.02H1029.65V884.90Z M1037.57 884.90V812.02H1038.17V884.90Z M1039.27 884.90V775.58H1039.87V884.90Z M1047.79 884.90V848.46H1048.39V884.90Z M1049.49 884.90V812.02H1050.09V884.90Z M1068.23 884.90V848.46H1068.83V884.90Z M1069.93 884.90V848.46H1070.53V884.90Z M1073.34 884.90V848.46H1073.94V884.90Z M1075.04 884.90V775.58H1075.64V884.90Z M1076.75 884.90V812.02H1077.35V884.90Z M1086.97 884.90V812.02H1087.57V884.90Z M1092.08 884.90V812.02H1092.68V884.90Z M1187.46 884.90V848.46H1188.06V884.90Z M1189.16 884.90V848.46H1189.76V884.90Z M1194.27 884.90V848.46H1194.87V884.90Z M1206.20 884.90V848.46H1206.80V884.90Z M1209.60 884.90V848.46H1210.20V884.90Z M1218.12 884.90V848.46H1218.72V884.90Z M1223.23 884.90V848.46H1223.83V884.90Z M1224.93 884.90V848.46H1225.53V884.90Z M1231.74 884.90V848.46H1232.34V884.90Z M1265.81 884.90V812.02H1266.41V884.90Z M1269.22 884.90V848.46H1269.82V884.90Z M1294.77 884.90V812.02H1295.37V884.90Z M1296.47 884.90V812.02H1297.07V884.90Z M1298.17 884.90V812.02H1298.77V884.90Z M1299.88 884.90V812.02H1300.48V884.90Z M1304.99 884.90V812.02H1305.59V884.90Z M1306.69 884.90V812.02H1307.29V884.90Z M1315.20 884.90V848.46H1315.80V884.90Z M1316.91 884.90V848.46H1317.51V884.90Z M1318.61 884.90V848.46H1319.21V884.90Z M1337.35 884.90V848.46H1337.95V884.90Z M1344.16 884.90V848.46H1344.76V884.90Z M1356.08 884.90V848.46H1356.68V884.90Z M1361.19 884.90V848.46H1361.79V884.90Z M1362.90 884.90V848.46H1363.50V884.90Z M1376.52 884.90V848.46H1377.12V884.90Z M1381.63 884.90V848.46H1382.23V884.90Z M1403.78 884.90V848.46H1404.38V884.90Z M1407.18 884.90V848.46H1407.78V884.90Z M1410.59 884.90V812.02H1411.19V884.90Z M1412.29 884.90V848.46H1412.89V884.90Z M1414.00 884.90V848.46H1414.60V884.90Z M1415.70 884.90V812.02H1416.30V884.90Z M1417.40 884.90V812.02H1418.00V884.90Z M1429.32 884.90V812.02H1429.92V884.90Z M1448.06 884.90V848.46H1448.66V884.90Z M1449.76 884.90V848.46H1450.36V884.90Z M1454.87 884.90V848.46H1455.47V884.90Z M1456.58 884.90V848.46H1457.18V884.90Z M1459.98 884.90V848.46H1460.58V884.90Z"/>
<line x1="845.16" y1="764.65" x2="1464.45" y2="764.65" stroke="#D6404F" stroke-width="3.8" stroke-linecap="round" stroke-dasharray="1.3 6.057"/>
<line x1="845.00" y1="824.77" x2="1464.30" y2="824.77" stroke="#DAB200" stroke-width="3.4" stroke-dasharray="6.2 6.062"/>
<text x="1463.0" y="754.5" font-size="14.2" fill="#3A3A3A" text-anchor="end" textLength="65.0" lengthAdjust="spacingAndGlyphs" >Busy: 66%</text>
<text x="1463.0" y="847.9" font-size="14.2" fill="#3A3A3A" text-anchor="end" textLength="95.8" lengthAdjust="spacingAndGlyphs" >Less Busy: 33%</text>
<text x="847.0" y="688.3" font-size="22.8" fill="#4B5058" text-anchor="start" textLength="74.9" lengthAdjust="spacingAndGlyphs" >LAB 078</text>
</g>
</svg></div>
</body></html>
